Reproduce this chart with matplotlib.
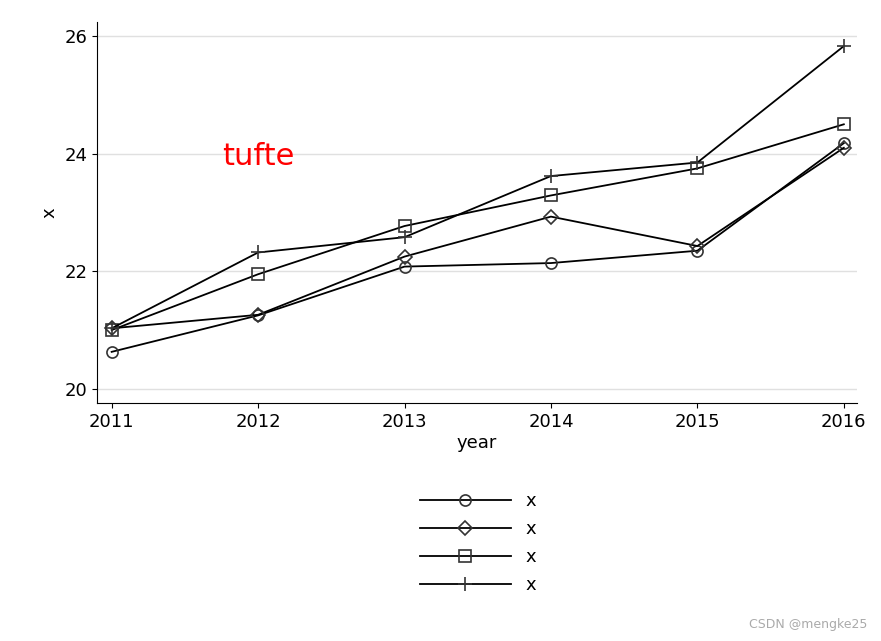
import matplotlib.pyplot as plt

years = [2011, 2012, 2013, 2014, 2015, 2016]
s_circle = [20.63, 21.25, 22.08, 22.14, 22.35, 24.18]
s_diamond = [21.03, 21.26, 22.25, 22.93, 22.43, 24.10]
s_square = [21.00, 21.95, 22.77, 23.29, 23.75, 24.50]
s_plus = [21.03, 22.32, 22.58, 23.62, 23.85, 25.83]
yticks = [20, 22, 24, 26]


def main():
    fig = plt.figure(figsize=(8.81, 6.41), dpi=100)
    ax = fig.add_axes([97 / 881, 1 - 403 / 641, 760 / 881, 381 / 641])

    series = [(s_circle, 'o'), (s_diamond, 'D'), (s_square, 's'), (s_plus, '+')]
    for vals, m in series:
        ms = 10 if m == '+' else (7 if m == 'D' else 8)
        ax.plot(years, vals, color='black', lw=1.3, marker=m, ms=ms,
                mfc='none', mec='#333333', mew=1.2, label='x')

    ax.set_xlim(2010.9, 2016.09)
    ax.set_ylim(19.76, 26.24)
    ax.set_yticks(yticks)
    ax.set_xticks(years)
    ax.grid(axis='y', color='#e0e0e0', lw=1)
    ax.set_axisbelow(True)
    for s in ['top', 'right']:
        ax.spines[s].set_visible(False)
    ax.tick_params(labelsize=13)
    ax.set_xlabel('year', fontsize=13, labelpad=2)
    ax.set_ylabel('x', fontsize=13)
    ax.text(2012, 23.95, 'tufte', color='red', fontsize=22, ha='center', va='center')

    fig.legend(loc='center', bbox_to_anchor=(478 / 881, 1 - 543 / 641), frameon=False,
               fontsize=13, handlelength=5, labelspacing=0.55)
    fig.text(0.985, 0.02, 'CSDN @mengke25', color='#aaaaaa', fontsize=9, ha='right')

    plt.savefig('out.png', dpi=100)


if __name__ == '__main__':
    main()
